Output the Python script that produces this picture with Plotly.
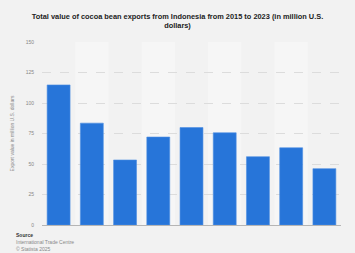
import plotly.graph_objects as go

years = ["2015", "2016", "2017", "2018", "2019", "2020", "2021", "2022", "2023"]
values = [114.8, 83.5, 53.3, 72.1, 79.9, 75.6, 56.0, 63.3, 46.2]
y_ticks = [0, 25, 50, 75, 100, 125, 150]
y_tick_text = ["0", "25", "50", "75", "100", "125", "150"]

BG = "#f2f2f2"
fig = go.Figure()
fig.add_trace(go.Bar(
    x=years, y=values,
    marker=dict(color="#2775d9", line=dict(color="#4d8fe3", width=0.6)),
    width=0.69,
))

shapes = []
for i, yr in enumerate(years):
    if i % 2 == 1:
        shapes.append(dict(type="rect", xref="x", yref="y", x0=i - 0.5, x1=i + 0.5,
                           y0=0, y1=150, fillcolor="#f6f6f6", line=dict(width=0), layer="below"))

fig.update_layout(
    width=355, height=253,
    paper_bgcolor=BG, plot_bgcolor=BG,
    margin=dict(l=40, r=14, t=42, b=27.5),
    showlegend=False,
    shapes=shapes,
    font=dict(family="Liberation Sans, Arial, sans-serif", color="#666666"),
    title=dict(
        text="<b>Total value of cocoa bean exports from Indonesia from 2015 to 2023 (in million U.S.<br>dollars)</b>",
        x=0.5, xanchor="center", y=1 - 18.5 / 253, yanchor="middle", yref="container",
        font=dict(size=7.4, color="#222222"),
    ),
    xaxis=dict(
        showticklabels=False, showgrid=False, zeroline=False,
        showline=True, linecolor="#b5b5b5", linewidth=1, ticks="",
        range=[-0.5, 8.5],
    ),
    yaxis=dict(
        range=[0, 150], tickvals=y_ticks, ticktext=y_tick_text,
        showgrid=True, gridcolor="#dcdcdc", griddash="dash", gridwidth=0.6,
        zeroline=False, tickfont=dict(size=5, color="#888888"),
        ticks="", ticklen=0, ticklabelstandoff=7,
        title=dict(text="Export value in million U.S. dollars", font=dict(size=5, color="#888888"), standoff=10),
    ),
)

plot_w = 355 - 40 - 14
plot_h = 253 - 42 - 27.5
def px_to_paper(px, py):
    return (px - 40) / plot_w, (253 - 27.5 - py) / plot_h

ann = []
for txt, py, col in [("<b>Source</b>", 236, "#333333"), ("International Trade Centre", 243, "#888888"), ("© Statista 2025", 250, "#888888")]:
    xx, yy = px_to_paper(12, py)
    ann.append(dict(text=txt, xref="paper", yref="paper", x=xx, y=yy, xanchor="left", yanchor="middle",
                    showarrow=False, font=dict(size=5, color=col)))
fig.update_layout(annotations=ann)

fig.write_html("out.html")
